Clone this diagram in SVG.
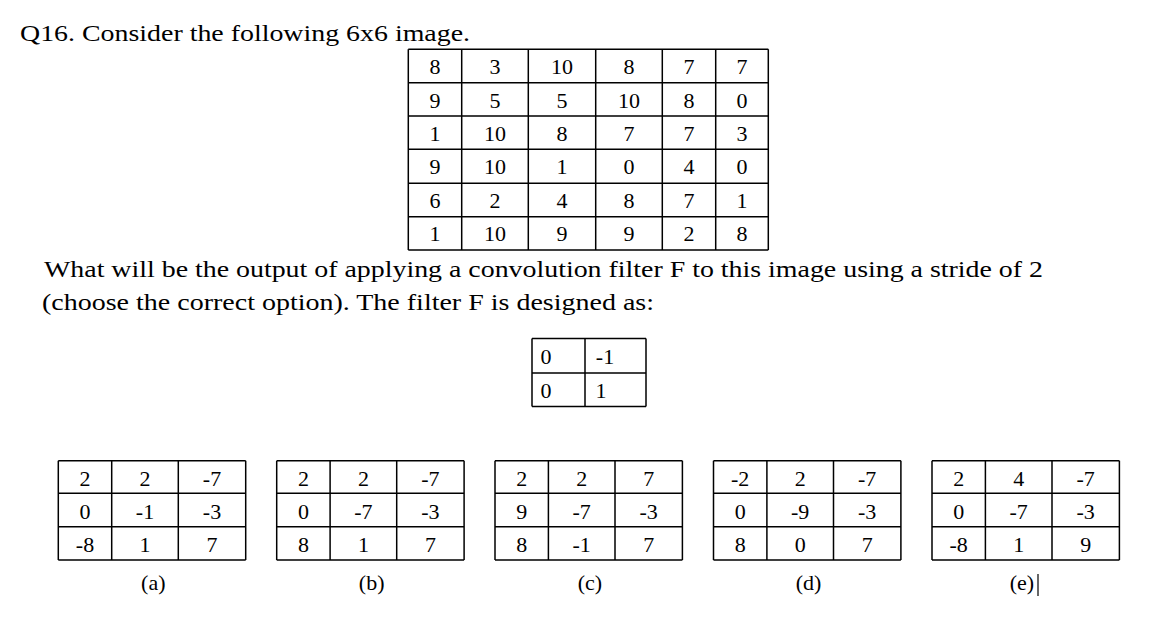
<svg xmlns="http://www.w3.org/2000/svg" width="1156" height="634" viewBox="0 0 1156 634">
<style>
text{font-family:"Liberation Serif","Times New Roman",serif;fill:#000}
.t{font-size:24px}
.n{font-size:22px;text-anchor:middle}
.g{fill:none;stroke:#000;stroke-width:1.5}
</style>
<rect width="1156" height="634" fill="#fff"/>
<text class="t" x="20" y="41" textLength="450" lengthAdjust="spacingAndGlyphs">Q16. Consider the following 6x6 image.</text>
<g id="image">
<path class="g" d="M408.3 49.3V250M461.7 49.3V250M528.3 49.3V250M595.7 49.3V250M662.3 49.3V250M715.7 49.3V250M768.3 49.3V250M408.3 49.3H768.3M408.3 82.7H768.3M408.3 116H768.3M408.3 149.3H768.3M408.3 183.3H768.3M408.3 216.7H768.3M408.3 250H768.3"/>
<g class="n">
<text class="n" x="435" y="74">8</text><text class="n" x="495" y="74">3</text><text class="n" x="562" y="74">10</text><text class="n" x="629" y="74">8</text><text class="n" x="689" y="74">7</text><text class="n" x="742" y="74">7</text>
<text class="n" x="435" y="108">9</text><text class="n" x="495" y="108">5</text><text class="n" x="562" y="108">5</text><text class="n" x="629" y="108">10</text><text class="n" x="689" y="108">8</text><text class="n" x="742" y="108">0</text>
<text class="n" x="435" y="141">1</text><text class="n" x="495" y="141">10</text><text class="n" x="562" y="141">8</text><text class="n" x="629" y="141">7</text><text class="n" x="689" y="141">7</text><text class="n" x="742" y="141">3</text>
<text class="n" x="435" y="174">9</text><text class="n" x="495" y="174">10</text><text class="n" x="562" y="174">1</text><text class="n" x="629" y="174">0</text><text class="n" x="689" y="174">4</text><text class="n" x="742" y="174">0</text>
<text class="n" x="435" y="208">6</text><text class="n" x="495" y="208">2</text><text class="n" x="562" y="208">4</text><text class="n" x="629" y="208">8</text><text class="n" x="689" y="208">7</text><text class="n" x="742" y="208">1</text>
<text class="n" x="435" y="241">1</text><text class="n" x="495" y="241">10</text><text class="n" x="562" y="241">9</text><text class="n" x="629" y="241">9</text><text class="n" x="689" y="241">2</text><text class="n" x="742" y="241">8</text>
</g>
</g>
<text class="t" x="44" y="277" textLength="999" lengthAdjust="spacingAndGlyphs">What will be the output of applying a convolution filter F to this image using a stride of 2</text>
<text class="t" x="42" y="310" textLength="612" lengthAdjust="spacingAndGlyphs">(choose the correct option). The filter F is designed as:</text>
<g id="filter">
<path class="g" d="M532 338.4V406.4M585 338.4V406.4M646 338.4V406.4M532 338.4H646M532 372.9H646M532 406.4H646"/>
<text class="n" x="546" y="364">0</text><text class="n" x="605" y="364">-1</text>
<text class="n" x="546" y="398">0</text><text class="n" x="601" y="398">1</text>
</g>
<defs>
<path id="grid3" class="g" d="M0 460.7V560M53.4 460.7V560M120 460.7V560M187.4 460.7V560M0 460.7H187.4M0 493.3H187.4M0 526.7H187.4M0 560H187.4"/>
</defs>
<g id="opt-a" transform="translate(58.3 0)">
<use href="#grid3"/>
<text class="n" x="26.7" y="486">2</text><text class="n" x="86.7" y="486">2</text><text class="n" x="153.7" y="486">-7</text>
<text class="n" x="26.7" y="519">0</text><text class="n" x="86.7" y="519">-1</text><text class="n" x="153.7" y="519">-3</text>
<text class="n" x="26.7" y="552">-8</text><text class="n" x="86.7" y="552">1</text><text class="n" x="153.7" y="552">7</text>
<text class="n" x="95" y="590">(a)</text>
</g>
<g id="opt-b" transform="translate(276.7 0)">
<use href="#grid3"/>
<text class="n" x="26.7" y="486">2</text><text class="n" x="86.7" y="486">2</text><text class="n" x="153.7" y="486">-7</text>
<text class="n" x="26.7" y="519">0</text><text class="n" x="86.7" y="519">-7</text><text class="n" x="153.7" y="519">-3</text>
<text class="n" x="26.7" y="552">8</text><text class="n" x="86.7" y="552">1</text><text class="n" x="153.7" y="552">7</text>
<text class="n" x="95" y="590">(b)</text>
</g>
<g id="opt-c" transform="translate(495 0)">
<use href="#grid3"/>
<text class="n" x="26.7" y="486">2</text><text class="n" x="86.7" y="486">2</text><text class="n" x="153.7" y="486">7</text>
<text class="n" x="26.7" y="519">9</text><text class="n" x="86.7" y="519">-7</text><text class="n" x="153.7" y="519">-3</text>
<text class="n" x="26.7" y="552">8</text><text class="n" x="86.7" y="552">-1</text><text class="n" x="153.7" y="552">7</text>
<text class="n" x="95" y="590">(c)</text>
</g>
<g id="opt-d" transform="translate(713.5 0)">
<use href="#grid3"/>
<text class="n" x="26.7" y="486">-2</text><text class="n" x="86.7" y="486">2</text><text class="n" x="153.7" y="486">-7</text>
<text class="n" x="26.7" y="519">0</text><text class="n" x="86.7" y="519">-9</text><text class="n" x="153.7" y="519">-3</text>
<text class="n" x="26.7" y="552">8</text><text class="n" x="86.7" y="552">0</text><text class="n" x="153.7" y="552">7</text>
<text class="n" x="95" y="590">(d)</text>
</g>
<g id="opt-e" transform="translate(932 0)">
<use href="#grid3"/>
<text class="n" x="26.7" y="486">2</text><text class="n" x="86.7" y="486">4</text><text class="n" x="153.7" y="486">-7</text>
<text class="n" x="26.7" y="519">0</text><text class="n" x="86.7" y="519">-7</text><text class="n" x="153.7" y="519">-3</text>
<text class="n" x="26.7" y="552">-8</text><text class="n" x="86.7" y="552">1</text><text class="n" x="153.7" y="552">9</text>
<text class="n" x="90" y="590">(e)</text>
<path d="M106 574V596" stroke="#000" stroke-width="1.2"/>
</g>
</svg>
